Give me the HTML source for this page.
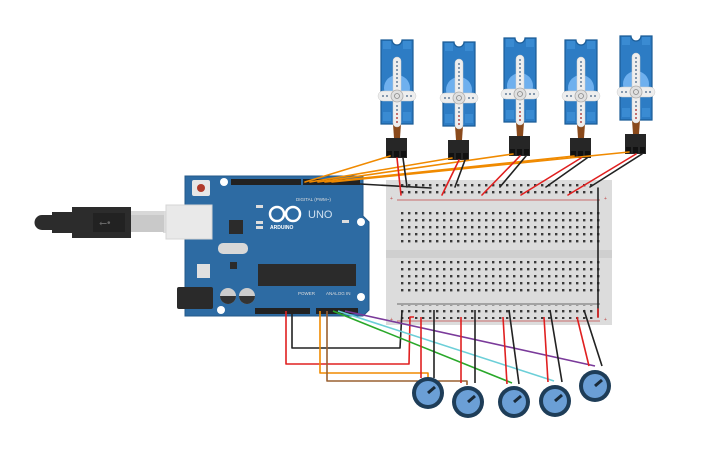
<!DOCTYPE html>
<html><head><meta charset="utf-8"><style>
html,body{margin:0;padding:0;background:#fff;width:725px;height:453px;overflow:hidden}
svg{display:block;font-family:"Liberation Sans",sans-serif}
</style></head><body>
<svg width="725" height="453" viewBox="0 0 725 453" xmlns="http://www.w3.org/2000/svg">
<defs>
<pattern id="holes" x="0" y="0" width="7" height="7" patternUnits="userSpaceOnUse">
<rect x="2" y="2" width="2.4" height="2.4" fill="#3a3a3a"/></pattern>
<g id="servo">
<path d="M0,2 h11 a5,5 0 0 0 10,0 h11 v84 h-32 z" fill="#2d7cc4" stroke="#1b5c96" stroke-width="1.2"/>
<rect x="2" y="3" width="8" height="8" fill="#3a8bd2"/><rect x="22" y="3" width="8" height="8" fill="#3a8bd2"/>
<rect x="2" y="74" width="8" height="9" fill="#3a8bd2"/><rect x="22" y="74" width="8" height="9" fill="#3a8bd2"/>
<circle cx="16" cy="50" r="13" fill="#6fb0ee"/>
<path d="M12,86 L13,100 L19,100 L20,86 Z" fill="#8a4a1c"/>
<rect x="12" y="19" width="8" height="70" rx="4" fill="#eeeeee" stroke="#ccc" stroke-width="0.5"/>
<rect x="-3" y="53" width="38" height="10" rx="5" fill="#eeeeee" stroke="#ccc" stroke-width="0.5"/>
<circle cx="16" cy="58" r="6" fill="#e0e0e0" stroke="#aaa" stroke-width="0.8"/>
<circle cx="16" cy="58" r="2.5" fill="none" stroke="#888" stroke-width="0.8"/>
<g fill="#3b5d80"><circle cx="16" cy="24" r="0.9"/><circle cx="16" cy="28" r="0.9"/><circle cx="16" cy="32" r="0.9"/><circle cx="16" cy="36" r="0.9"/><circle cx="16" cy="40" r="0.9"/><circle cx="16" cy="44" r="0.9"/><circle cx="16" cy="48" r="0.9"/>
<circle cx="16" cy="68" r="0.9"/><circle cx="16" cy="72" r="0.9"/><circle cx="2" cy="58" r="0.9"/><circle cx="6" cy="58" r="0.9"/><circle cx="26" cy="58" r="0.9"/><circle cx="30" cy="58" r="0.9"/></g>
<g fill="#a01818"><circle cx="16" cy="76" r="0.9"/><circle cx="16" cy="80" r="0.9"/><circle cx="16" cy="84" r="0.9"/></g>
<rect x="5" y="100" width="21" height="20" fill="#262626"/>
<rect x="6" y="113" width="5" height="6" fill="#111"/><rect x="13" y="113" width="5" height="6" fill="#111"/><rect x="20" y="113" width="5" height="6" fill="#111"/>
</g>
<g id="pot">
<circle r="16" fill="#1e3d58"/><circle r="12" fill="#6b9fd6"/>
<line x1="0" y1="0" x2="7" y2="-6" stroke="#1a2a38" stroke-width="3"/>
</g>
</defs>

<!-- USB cable -->
<rect x="163" y="211" width="6" height="22" fill="#ddd"/>
<rect x="131" y="211" width="33" height="21" fill="#c9c9c9"/>
<rect x="131" y="211" width="33" height="4" fill="#d8d8d8"/>
<path d="M42,215 h10 v-3 h20 v-5 h59 v31 h-59 v-5 h-20 v-3 h-10 a6,6 0 0 1 0,-15 z" fill="#2c2c2c"/>
<rect x="93" y="213" width="32" height="19" fill="#222"/>
<text x="99" y="226" font-size="10" fill="#666">⭠•</text>
<rect x="166" y="205" width="46" height="34" fill="#e9e9e9" stroke="#d5d5d5"/>

<!-- Arduino -->
<path d="M185,176 h178 v40 l6,6 v88 l-6,6 h-178 z" fill="#2d6ba3" stroke="#24598a"/>
<rect x="166" y="205" width="46" height="34" fill="#e9e9e9" stroke="#d5d5d5"/>
<rect x="177" y="287" width="36" height="22" rx="2" fill="#2a2a2a"/>
<rect x="192" y="180" width="18" height="16" rx="2" fill="#e6e6e6"/><circle cx="201" cy="188" r="4" fill="#b03a2a"/>
<circle cx="224" cy="182" r="4" fill="#fff"/><circle cx="361" cy="222" r="4" fill="#fff"/><circle cx="361" cy="297" r="4" fill="#fff"/><circle cx="221" cy="310" r="4" fill="#fff"/>
<rect x="231" y="179" width="70" height="6" fill="#222"/><rect x="303" y="179" width="57" height="6" fill="#222"/>
<rect x="255" y="308" width="55" height="6" fill="#222"/><rect x="316" y="308" width="42" height="6" fill="#222"/>
<text x="296" y="201" font-size="4.5" fill="#ddd">DIGITAL (PWM~)</text>
<text x="298" y="295" font-size="4.5" fill="#ddd">POWER</text>
<text x="326" y="295" font-size="4.5" fill="#ddd">ANALOG IN</text>
<circle cx="277" cy="214" r="7" fill="none" stroke="#fff" stroke-width="2.5"/><circle cx="293" cy="214" r="7" fill="none" stroke="#fff" stroke-width="2.5"/>
<text x="270" y="229" font-size="5" font-weight="bold" fill="#fff">ARDUINO</text>
<text x="308" y="218" font-size="11" fill="#cfe0f0">UNO</text>
<rect x="229" y="220" width="14" height="14" fill="#2b2b2b"/>
<rect x="218" y="243" width="30" height="11" rx="5" fill="#d8d8d8"/>
<rect x="230" y="262" width="7" height="7" fill="#2b2b2b"/>
<rect x="197" y="264" width="13" height="14" fill="#e0e0e0"/>
<rect x="258" y="264" width="98" height="22" fill="#2b2b2b"/>
<circle cx="228" cy="296" r="8" fill="#ccc"/><path d="M220,296 a8,8 0 0 0 16,0 z" fill="#333"/>
<circle cx="247" cy="296" r="8" fill="#ccc"/><path d="M239,296 a8,8 0 0 0 16,0 z" fill="#333"/>
<rect x="256" y="205" width="7" height="3" fill="#ddd"/><rect x="256" y="221" width="7" height="3" fill="#ddd"/><rect x="256" y="226" width="7" height="3" fill="#ddd"/><rect x="342" y="220" width="7" height="3" fill="#ddd"/>

<!-- Breadboard -->
<rect x="386" y="180" width="226" height="145" fill="#dcdcdc"/>
<rect x="386" y="250" width="226" height="8" fill="#cfcfcf"/>
<rect x="400" y="183" width="196" height="14" fill="url(#holes)"/>
<rect x="400" y="211" width="203" height="35" fill="url(#holes)"/>
<rect x="400" y="260" width="203" height="35" fill="url(#holes)"/>
<rect x="400" y="305" width="196" height="14" fill="url(#holes)"/>
<line x1="397" y1="200" x2="600" y2="200" stroke="#c04848" stroke-width="0.8"/>
<line x1="397" y1="304" x2="600" y2="304" stroke="#444" stroke-width="0.8"/>
<line x1="397" y1="321" x2="600" y2="321" stroke="#c04848" stroke-width="0.8"/>
<g font-size="5" fill="#c04848"><text x="390" y="200">+</text><text x="604" y="200">+</text><text x="390" y="321">+</text><text x="604" y="321">+</text></g>

<!-- Servos -->
<use href="#servo" x="381" y="38"/>
<use href="#servo" x="443" y="40"/>
<use href="#servo" x="504" y="36"/>
<use href="#servo" x="565" y="38"/>
<use href="#servo" x="620" y="34"/>

<!-- Servo wires -->
<g stroke-width="1.6" fill="none" stroke-linecap="round">
<g stroke="#f08a00">
<line x1="390" y1="156" x2="305" y2="182"/>
<line x1="452" y1="158" x2="310" y2="182"/>
<line x1="513" y1="154" x2="318" y2="182"/>
<line x1="574" y1="156" x2="325" y2="182"/>
<line x1="629" y1="152" x2="332" y2="182"/>
</g>
<g stroke="#222">
<polyline points="340,183 360,184 431,188"/>
<line x1="403" y1="158" x2="407" y2="187"/>
<line x1="465" y1="160" x2="455" y2="187"/>
<line x1="526" y1="156" x2="500" y2="187"/>
<line x1="587" y1="158" x2="546" y2="187"/>
<line x1="642" y1="154" x2="590" y2="187"/>
<line x1="598" y1="188" x2="598" y2="317"/>
</g>
<g stroke="#e02020">
<line x1="397" y1="158" x2="401" y2="195"/>
<line x1="459" y1="160" x2="442" y2="195"/>
<line x1="520" y1="156" x2="482" y2="195"/>
<line x1="581" y1="158" x2="521" y2="195"/>
<line x1="636" y1="154" x2="568" y2="195"/>
<line x1="598" y1="309" x2="598" y2="317"/>
</g>
</g>

<!-- Arduino to board / pots -->
<g stroke-width="1.6" fill="none" stroke-linejoin="round">
<polyline points="292,311 292,348 400,348 402,311" stroke="#222"/>
<polyline points="286,311 286,364 409,364 410,317 414,317" stroke="#e02020"/>
<polyline points="320,311 320,373 428,373 428,379" stroke="#f08a00"/>
<polyline points="327,311 327,381 467,381 467,385" stroke="#9a6030"/>
<line x1="333" y1="311" x2="512" y2="383" stroke="#2aa82a"/>
<line x1="338" y1="311" x2="554" y2="381" stroke="#6ccfd8"/>
<line x1="345" y1="311" x2="595" y2="366" stroke="#7a3a9a"/>
<g stroke="#e02020"><line x1="421" y1="317" x2="421" y2="378"/><line x1="461" y1="317" x2="461" y2="383"/><line x1="503" y1="317" x2="507" y2="384"/><line x1="544" y1="317" x2="548" y2="382"/><line x1="577" y1="317" x2="589" y2="366"/></g>
<g stroke="#222"><line x1="434" y1="310" x2="434" y2="378"/><line x1="475" y1="310" x2="475" y2="383"/><line x1="509" y1="310" x2="519" y2="384"/><line x1="550" y1="310" x2="562" y2="382"/><line x1="584" y1="310" x2="602" y2="366"/></g>
</g>

<!-- Pots -->
<use href="#pot" x="428" y="393"/>
<use href="#pot" x="468" y="402"/>
<use href="#pot" x="514" y="402"/>
<use href="#pot" x="555" y="401"/>
<use href="#pot" x="595" y="386"/>
</svg>
</body></html>
